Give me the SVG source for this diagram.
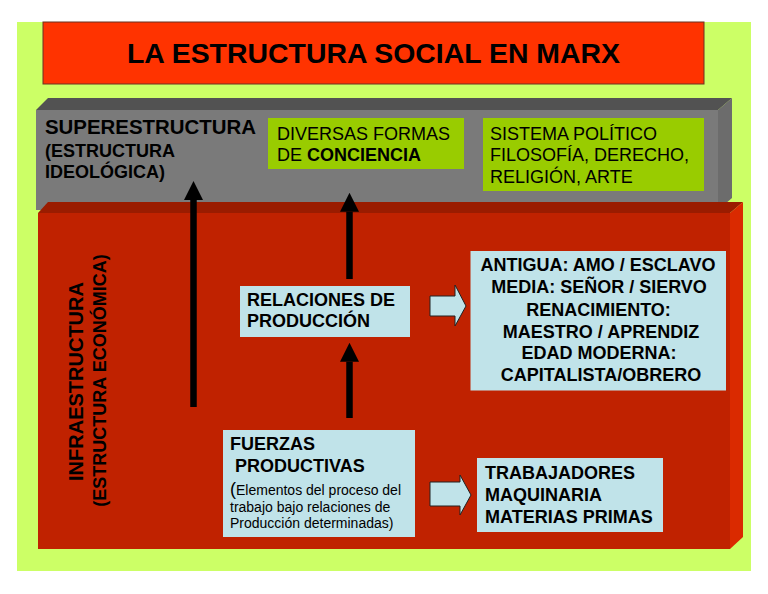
<svg xmlns="http://www.w3.org/2000/svg" width="768" height="594" viewBox="0 0 768 594">
<style>
text{font-family:"Liberation Sans",Arial,sans-serif;fill:#000}
.b{font-weight:bold}
.blue{fill:#C0E3E9}
.lime{fill:#99CC00}
.blk{stroke:#000;stroke-width:6.5;fill:none}
.barrow{fill:#C0E3E9;stroke:#222;stroke-width:1}
</style>
<defs>
<marker id="ah" markerUnits="userSpaceOnUse" markerWidth="19" markerHeight="19" viewBox="0 0 19 19" refX="0" refY="9.5" orient="auto">
<path d="M0,0 L19,9.5 L0,19 z" fill="#000"/>
</marker>
</defs>
<rect x="0" y="0" width="768" height="594" fill="#fff"/>
<rect id="background" x="17" y="22" width="734" height="549" fill="#CCFF66"/>
<g id="title">
<rect x="43" y="22" width="661" height="62" fill="#FF3300" stroke="#6b3322" stroke-width="1"/>
<text class="b" x="127" y="63" font-size="28" textLength="493" lengthAdjust="spacingAndGlyphs">LA ESTRUCTURA SOCIAL EN MARX</text>
</g>
<g id="superestructura">
<polygon points="48,98 732,98 718,110 36,110" fill="#525252"/>
<polygon points="718,110 732,98 732,198 718,210" fill="#6c6c6c"/>
<rect x="36" y="110" width="682" height="100" fill="#7a7a7a"/>
<text class="b" x="45" y="134" font-size="19.5" textLength="211" lengthAdjust="spacingAndGlyphs">SUPERESTRUCTURA</text>
<text class="b" x="45" y="157" font-size="18">(ESTRUCTURA</text>
<text class="b" x="45" y="178" font-size="18">IDEOLÓGICA)</text>
</g>
<g id="diversas">
<rect class="lime" x="268" y="118" width="196" height="51"/>
<text x="277" y="139.5" font-size="18">DIVERSAS FORMAS</text>
<text x="277" y="161" font-size="18">DE <tspan class="b">CONCIENCIA</tspan></text>
</g>
<g id="sistema">
<rect class="lime" x="483" y="118" width="221" height="73"/>
<text x="490" y="139.5" font-size="18">SISTEMA POLÍTICO</text>
<text x="490" y="161" font-size="18">FILOSOFÍA, DERECHO,</text>
<text x="490" y="183" font-size="18">RELIGIÓN, ARTE</text>
</g>
<g id="infraestructura">
<polygon points="48,202 743,202 730,213 38,213" fill="#9A1C00"/>
<polygon points="730,213 743,202 743,537 730,549" fill="#DA2A00"/>
<rect x="38" y="213" width="692" height="336" fill="#C02200"/>
<text class="b" font-size="20" text-anchor="middle" transform="translate(83,381.5) rotate(-90)">INFRAESTRUCTURA</text>
<text class="b" font-size="18" text-anchor="middle" transform="translate(106,380.5) rotate(-90)">(ESTRUCTURA ECONÓMICA)</text>
</g>
<g id="relaciones">
<rect class="blue" x="240" y="286" width="170" height="51"/>
<text class="b" x="247" y="306" font-size="18">RELACIONES DE</text>
<text class="b" x="247" y="327" font-size="18">PRODUCCIÓN</text>
</g>
<g id="fuerzas">
<rect class="blue" x="223" y="430" width="192" height="107"/>
<text class="b" x="230" y="450" font-size="18">FUERZAS</text>
<text class="b" x="235" y="472" font-size="18">PRODUCTIVAS</text>
<text x="230" y="495" font-size="14"><tspan font-size="18">(</tspan>Elementos del proceso del</text>
<text x="230" y="512" font-size="14">trabajo bajo relaciones de</text>
<text x="230" y="528" font-size="14">Producción determinadas)</text>
</g>
<g id="epocas">
<rect class="blue" x="470.5" y="251" width="255.5" height="139.5"/>
<g class="b" font-size="18" text-anchor="middle">
<text x="598" y="271">ANTIGUA: AMO / ESCLAVO</text>
<text x="599" y="293">MEDIA: SEÑOR / SIERVO</text>
<text x="598.5" y="316">RENACIMIENTO:</text>
<text x="601" y="338">MAESTRO / APRENDIZ</text>
<text x="599" y="359">EDAD MODERNA:</text>
<text x="601" y="381">CAPITALISTA/OBRERO</text>
</g>
</g>
<g id="elementos">
<rect class="blue" x="477" y="458" width="186" height="74"/>
<text class="b" x="485" y="479" font-size="18">TRABAJADORES</text>
<text class="b" x="485" y="501" font-size="18">MAQUINARIA</text>
<text class="b" x="485" y="523" font-size="18">MATERIAS PRIMAS</text>
</g>
<g id="connectors">
<path class="blk" d="M193.5,407 V200" marker-end="url(#ah)"/>
<path class="blk" d="M349.5,279 V211.7" marker-end="url(#ah)"/>
<path class="blk" d="M349.5,418 V361.7" marker-end="url(#ah)"/>
<polygon class="barrow" points="430,296 455,296 455,285 466,306 455,326 455,316 430,316"/>
<polygon class="barrow" points="430,482 460,482 460,475 471,495 460,515 460,506 430,506"/>
</g>
</svg>
